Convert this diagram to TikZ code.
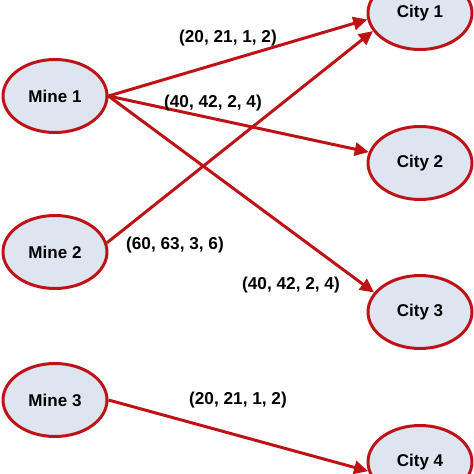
\documentclass[tikz,border=0pt]{standalone}
\usepackage{fontspec}
\setmainfont{Liberation Sans}
\usepackage{tikz}
\usetikzlibrary{arrows.meta, positioning, shapes.geometric}
\usepackage{xcolor}
\definecolor{minered}{RGB}{190,18,22}
\definecolor{minefill}{RGB}{221,229,241}

\begin{document}
\begin{tikzpicture}[x=0.02cm, y=0.02cm,
    site/.style={ellipse, draw=minered, fill=minefill, line width=1.7pt,
                 minimum width=2.08cm, minimum height=1.46cm, inner sep=0pt,
                 font=\fontsize{9.7}{11}\selectfont\bfseries},
    route/.style={draw=minered, line width=1.7pt,
                  -{Triangle[length=8pt, width=7.5pt]}},
    cost/.style={font=\fontsize{9.8}{11}\selectfont\bfseries, inner sep=1pt}]
  \useasboundingbox (0,0) rectangle (474,474);
  % Mines on the left
  \foreach \i/\y in {1/378, 2/222, 3/74} {
    \node[site] (mine\i) at (55,\y) {Mine \i};
  }
  % Cities on the right
  \foreach \i/\y in {1/461, 2/311, 3/162, 4/12} {
    \node[site] (city\i) at (420,\y) {City \i};
  }
  % Shipping routes
  \draw[route] (mine1.east) -- (city1.187);
  \draw[route] (mine1.east) -- (city2.168);
  \draw[route] (mine1.east) -- (city3.157);
  \draw[route] (mine2.10)   -- (city1.201);
  \draw[route] (mine3.east) -- (city4.190);
  % Route labels
  \node[cost] (l11) at (228,436) {(20, 21, 1, 2)};
  \node[cost] (l12) at (213,371) {(40, 42, 2, 4)};
  \node[cost] (l21) at (175,229) {(60, 63, 3, 6)};
  \node[cost] (l13) at (291,189) {(40, 42, 2, 4)};
  \node[cost] (l34) at (238,74)  {(20, 21, 1, 2)};
\end{tikzpicture}
\end{document}
